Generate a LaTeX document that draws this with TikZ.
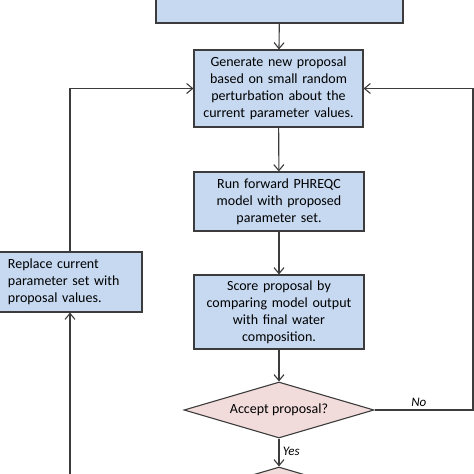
\documentclass[tikz,border=0pt]{standalone}
\usepackage{fontspec}
\setmainfont{Carlito}
\usetikzlibrary{shapes.geometric, arrows.meta}

\definecolor{boxfill}{RGB}{198,217,241}
\definecolor{decfill}{RGB}{242,220,219}
\definecolor{linegray}{RGB}{60,60,60}

\begin{document}
\begin{tikzpicture}[x=1pt, y=1pt,
   font=\fontsize{14}{17}\selectfont,
   -{Straight Barb[length=6pt,width=10pt]}, draw=linegray, line width=1.1pt,
   stepbox/.style = {rectangle, draw=linegray, fill=boxfill, line width=1.1pt,
      inner sep=0pt, align=center, text width=#1},
   stepbox/.default = 160pt,
   decision/.style = {diamond, draw=linegray, fill=decfill, line width=1.1pt,
      inner sep=0pt, aspect=3.4, minimum width=190pt, minimum height=56pt},
   lbl/.style = {font=\fontsize{13}{15}\selectfont\itshape}]
   \useasboundingbox (0,0) rectangle (474,-474);

   \node[stepbox=247pt, minimum height=30pt] (init) at (279.5,-8) {};
   \node[stepbox, minimum width=169pt, minimum height=77pt] (gen) at (278.5,-88.5)
      {Generate new proposal\\ based on small random\\ perturbation about the\\ current parameter values.};
   \node[stepbox, minimum width=170pt, minimum height=59pt] (run) at (279,-201.5)
      {Run forward PHREQC\\ model with proposed\\ parameter set.};
   \node[stepbox, minimum width=170pt, minimum height=74pt] (score) at (279,-312)
      {Score proposal by\\ comparing model output\\ with final water\\ composition.};
   \node[stepbox=124pt, align=left, minimum width=144pt, minimum height=60pt] (repl) at (70,-282)
      {Replace current\\ parameter set with\\ proposal values.};
   \node[decision] (accept) at (279,-410) {Accept proposal?};
   \node[decision] (next) at (279,-495) {};

   \coordinate (nocorner) at (473,-410);
   \coordinate (replin) at (70,-474);

   \draw (init) -- (gen);
   \draw (gen) -- (run);
   \draw (run) -- (score);
   \draw (score) -- (accept);
   \draw (accept) -- node[lbl, right, pos=0.45]{Yes} (next);
   %
   \draw (accept.east) -- node[lbl, above, pos=0.45]{No} (nocorner) |- (gen.east);
   \draw (repl.north) |- (gen.west);
   \draw (replin) -- (repl.south);

\end{tikzpicture}
\end{document}
